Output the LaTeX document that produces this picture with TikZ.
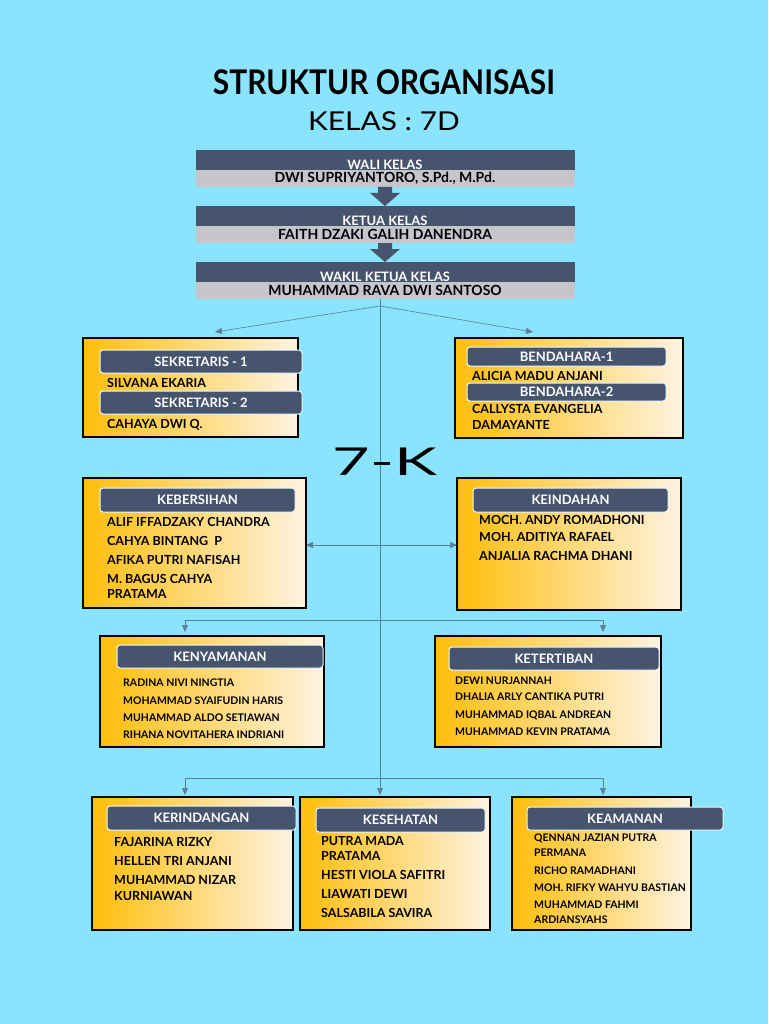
\documentclass[tikz,border=0pt]{standalone}
\usepackage{fontspec}
\setmainfont{Lato}
\usetikzlibrary{arrows.meta}
\definecolor{bg}{HTML}{8AE4FD}
\definecolor{slate}{HTML}{46546E}
\definecolor{gbar}{HTML}{C4C6CC}
\definecolor{org}{HTML}{FFBE0B}
\definecolor{cream}{HTML}{FFF3E2}
\tikzset{
 x=1pt,y=-1pt,
 obox/.style={draw=black,line width=2pt,left color=org,right color=cream},
 pill/.style={draw=white!80!bg,line width=1pt,fill=slate,rounded corners=3pt,text=white,font=\bfseries\fontsize{13}{13}\selectfont,inner sep=0pt},
 nm/.style={anchor=west,font=\bfseries\fontsize{12.5}{13}\selectfont,inner sep=0pt,align=left},
 sm/.style={anchor=west,font=\bfseries\fontsize{10.5}{11}\selectfont,inner sep=0pt},
 ln/.style={draw=slate!70!bg,line width=0.6pt},
 tip/.style={-{Triangle[length=7pt,width=6pt]},draw=slate!70!bg,line width=0.6pt},
}
\begin{document}
\begin{tikzpicture}
\useasboundingbox (0,0) rectangle (768,1024);
\fill[bg] (0,0) rectangle (768,1024);
\node[font=\bfseries\fontsize{34}{34}\selectfont] (t1) at (384,82) {\scalebox{0.88}[1]{STRUKTUR ORGANISASI}};
\node[font=\fontsize{26}{26}\selectfont,text=black] (t2) at (384,121) {\scalebox{1.15}[1]{KELAS : 7D}};
% header bars
\foreach \n/\y/\a/\b in {1/150/WALI KELAS/{DWI SUPRIYANTORO, S.Pd., M.Pd.},2/206/KETUA KELAS/FAITH DZAKI GALIH DANENDRA,3/262/WAKIL KETUA KELAS/MUHAMMAD RAVA DWI SANTOSO}{
 \fill[slate] (196,\y) rectangle (575,\y+22);
 \node[text=white,font=\bfseries\fontsize{13}{13}\selectfont] (h\n) at (385,\y+15) {\a};
 \fill[gbar] (196,\y+20) rectangle (575,\y+37);
 \node[font=\bfseries\fontsize{14}{14}\selectfont] (g\n) at (385,\y+28.5) {\b};
}
\foreach \y in {187,243}{\fill[slate] (378,\y) -- (392,\y) -- (392,\y+6) -- (400,\y+6) -- (385,\y+19) -- (370,\y+6) -- (378,\y+6) -- cycle;}
\coordinate (top) at (380,299);
\coordinate (mid1) at (380,306);
\coordinate (l1) at (215,332);
\coordinate (r1) at (533,332);
\draw[tip] (mid1) -- (l1);
\draw[tip] (mid1) -- (r1);
\coordinate (bot) at (380,795);
\draw[ln] (top) -- (380,778);
\draw[tip] (380,778) -- (bot);
% sekretaris
\draw[obox] (83,338) rectangle (298,437);
\node[pill,minimum width=202pt,minimum height=23pt] (s1) at (201,361.5) {SEKRETARIS - 1};
\node[nm] (sn1) at (107,383) {SILVANA EKARIA};
\node[pill,minimum width=202pt,minimum height=23pt] (s2) at (201,402.5) {SEKRETARIS - 2};
\node[nm] (sn2) at (107,425) {CAHAYA DWI Q.};
% bendahara
\draw[obox] (455,338) rectangle (683,438);
\node[pill,minimum width=199pt,minimum height=19pt] (b1) at (566.5,356.5) {BENDAHARA-1};
\node[nm] (bn1) at (472,376) {ALICIA MADU ANJANI};
\node[pill,minimum width=199pt,minimum height=18pt] (b2) at (566.5,392) {BENDAHARA-2};
\node[nm] (bn2) at (472,409) {CALLYSTA EVANGELIA};
\node[nm] (bn3) at (472,425) {DAMAYANTE};
% 7-K
\node[font=\fontsize{48}{48}\selectfont] (k) at (385,462) {\scalebox{1.35}[0.8]{7-K}};
% kebersihan / keindahan
\draw[obox] (83,478) rectangle (306,608);
\node[pill,minimum width=195pt,minimum height=24pt] (kb) at (197.5,500) {KEBERSIHAN};
\node[nm] at (107,522) {ALIF IFFADZAKY CHANDRA};
\node[nm] at (107,541) {CAHYA BINTANG \ P};
\node[nm] at (107,560) {AFIKA PUTRI NAFISAH};
\node[nm] at (107,579) {M. BAGUS CAHYA};
\node[nm] at (107,594) {PRATAMA};
\draw[obox] (457,478) rectangle (681,610);
\node[pill,minimum width=195pt,minimum height=24pt] (ki) at (570.5,500) {KEINDAHAN};
\node[nm] at (479,520) {MOCH. ANDY ROMADHONI};
\node[nm] at (479,537) {MOH. ADITIYA RAFAEL};
\node[nm] at (479,556) {ANJALIA RACHMA DHANI};
\coordinate (dl) at (306,545);\coordinate (dr) at (457,545);
\draw[ln,{Triangle[length=7pt,width=6pt]}-{Triangle[length=7pt,width=6pt]}] (dl) -- (dr);
% row line 1
\coordinate (a1) at (185,632);\coordinate (a2) at (603,632);
\draw[ln] (185,620) -- (603,620);
\draw[tip] (185,620) -- (a1);
\draw[tip] (603,620) -- (a2);
\draw[obox] (100,636) rectangle (324,747);
\node[pill,minimum width=206pt,minimum height=23pt] (ky) at (220,656.5) {KENYAMANAN};
\node[sm] at (123,683) {RADINA NIVI NINGTIA};
\node[sm] at (123,701) {MOHAMMAD SYAIFUDIN HARIS};
\node[sm] at (123,718) {MUHAMMAD ALDO SETIAWAN};
\node[sm] at (123,735) {RIHANA NOVITAHERA INDRIANI};
\draw[obox] (435,636) rectangle (661,747);
\node[pill,minimum width=210pt,minimum height=23pt] (kt) at (554,658.5) {KETERTIBAN};
\node[sm] at (455,681) {DEWI NURJANNAH};
\node[sm] at (455,697) {DHALIA ARLY CANTIKA PUTRI};
\node[sm] at (455,715) {MUHAMMAD IQBAL ANDREAN};
\node[sm] at (455,732) {MUHAMMAD KEVIN PRATAMA};
% row line 2
\coordinate (c1) at (185,795);\coordinate (c2) at (603,795);
\draw[ln] (185,778) -- (603,778);
\draw[tip] (185,778) -- (c1);
\draw[tip] (603,778) -- (c2);
\draw[obox] (92,797) rectangle (293,930);
\node[pill,minimum width=189pt,minimum height=24pt] (kr) at (201.5,818) {KERINDANGAN};
\node[nm] at (114,842) {FAJARINA RIZKY};
\node[nm] at (114,861) {HELLEN TRI ANJANI};
\node[nm] at (114,880) {MUHAMMAD NIZAR};
\node[nm] at (114,896) {KURNIAWAN};
\draw[obox] (300,797) rectangle (490,930);
\node[pill,minimum width=169pt,minimum height=24pt] (ks) at (400.5,820) {KESEHATAN};
\node[nm] at (321,841) {PUTRA MADA};
\node[nm] at (321,856) {PRATAMA};
\node[nm] at (321,875) {HESTI VIOLA SAFITRI};
\node[nm] at (321,894) {LIAWATI DEWI};
\node[nm] at (321,913) {SALSABILA SAVIRA};
\draw[obox] (512,797) rectangle (691,930);
\node[pill,minimum width=196pt,minimum height=23pt] (km) at (625,818.5) {KEAMANAN};
\node[sm] at (534,838) {QENNAN JAZIAN PUTRA};
\node[sm] at (534,853) {PERMANA};
\node[sm] at (534,871) {RICHO RAMADHANI};
\node[sm] at (534,888) {MOH. RIFKY WAHYU BASTIAN};
\node[sm] at (534,905) {MUHAMMAD FAHMI};
\node[sm] at (534,920) {ARDIANSYAHS};
\end{tikzpicture}
\end{document}
